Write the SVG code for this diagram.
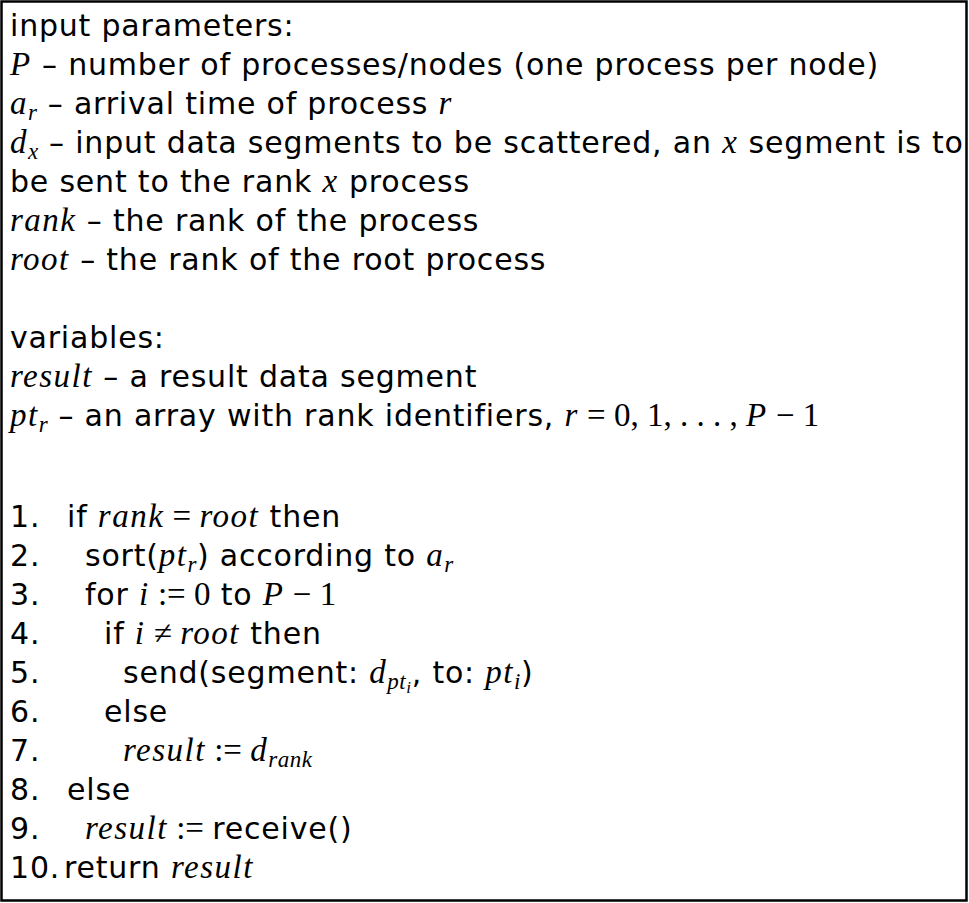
<svg xmlns="http://www.w3.org/2000/svg" width="969" height="903" viewBox="0 0 969 903">
<style>
text{font-family:"DejaVu Sans","Liberation Sans",sans-serif;font-size:30px;letter-spacing:0.8px;fill:#000}
.m{font-family:"Liberation Serif",serif;font-style:italic;font-size:33px;letter-spacing:1.5px}
.r{font-family:"Liberation Serif",serif;font-size:33px;letter-spacing:0}
.s{font-family:"Liberation Serif",serif;font-style:italic;font-size:23px;letter-spacing:0.5px}
.ss{font-family:"Liberation Serif",serif;font-style:italic;font-size:17px}
</style>
<rect x="1.5" y="1.5" width="965" height="899" fill="#fff" stroke="#000" stroke-width="2.5"/>
<g id="params">
<text x="10" y="36">input parameters:</text>
<text x="10" y="75"><tspan class="m">P</tspan> – number of processes/nodes (one process per node)</text>
<text x="10" y="114"><tspan class="m">a</tspan><tspan class="s" dy="6">r</tspan><tspan dy="-6"> – arrival time of process </tspan><tspan class="m">r</tspan></text>
<text x="10" y="153"><tspan class="m">d</tspan><tspan class="s" dy="6">x</tspan><tspan dy="-6"> – input data segments to be scattered, an </tspan><tspan class="m">x</tspan> segment is to</text>
<text x="10" y="192">be sent to the rank <tspan class="m">x</tspan> process</text>
<text x="10" y="231"><tspan class="m">rank</tspan> – the rank of the process</text>
<text x="10" y="270"><tspan class="m">root</tspan> – the rank of the root process</text>
</g>
<g id="vars">
<text x="10" y="348">variables:</text>
<text x="10" y="387"><tspan class="m">result</tspan> – a result data segment</text>
<text x="10" y="426"><tspan class="m">pt</tspan><tspan class="s" dy="6">r</tspan><tspan dy="-6"> – an array with rank identifiers, </tspan><tspan class="m">r</tspan><tspan class="r"> = 0, 1, . . . , </tspan><tspan class="m">P</tspan><tspan class="r"> − 1</tspan></text>
</g>
<g id="algo">
<text x="10" y="527">1.</text><text x="67" y="527">if <tspan class="m">rank</tspan><tspan class="r"> = </tspan><tspan class="m">root</tspan> then</text>
<text x="10" y="566">2.</text><text x="85" y="566">sort(<tspan class="m">pt</tspan><tspan class="s" dy="6">r</tspan><tspan dy="-6">) according to </tspan><tspan class="m">a</tspan><tspan class="s" dy="6">r</tspan></text>
<text x="10" y="605">3.</text><text x="85" y="605">for <tspan class="m">i</tspan><tspan class="r"> := 0</tspan> to <tspan class="m">P</tspan><tspan class="r"> − 1</tspan></text>
<text x="10" y="644">4.</text><text x="104" y="644">if <tspan class="m">i</tspan><tspan class="r"> ≠ </tspan><tspan class="m">root</tspan> then</text>
<text x="10" y="683">5.</text><text x="123" y="683">send(segment: <tspan class="m">d</tspan><tspan class="s" dy="6">pt</tspan><tspan class="ss" dy="4">i</tspan><tspan dy="-10">, to: </tspan><tspan class="m">pt</tspan><tspan class="s" dy="6">i</tspan><tspan dy="-6">)</tspan></text>
<text x="10" y="722">6.</text><text x="104" y="722">else</text>
<text x="10" y="761">7.</text><text x="123" y="761"><tspan class="m">result</tspan><tspan class="r"> := </tspan><tspan class="m">d</tspan><tspan class="s" dy="6">rank</tspan></text>
<text x="10" y="800">8.</text><text x="67" y="800">else</text>
<text x="10" y="839">9.</text><text x="85" y="839"><tspan class="m">result</tspan><tspan class="r"> := </tspan>receive()</text>
<text x="10" y="878">10.</text><text x="64" y="878">return <tspan class="m">result</tspan></text>
</g>
</svg>
